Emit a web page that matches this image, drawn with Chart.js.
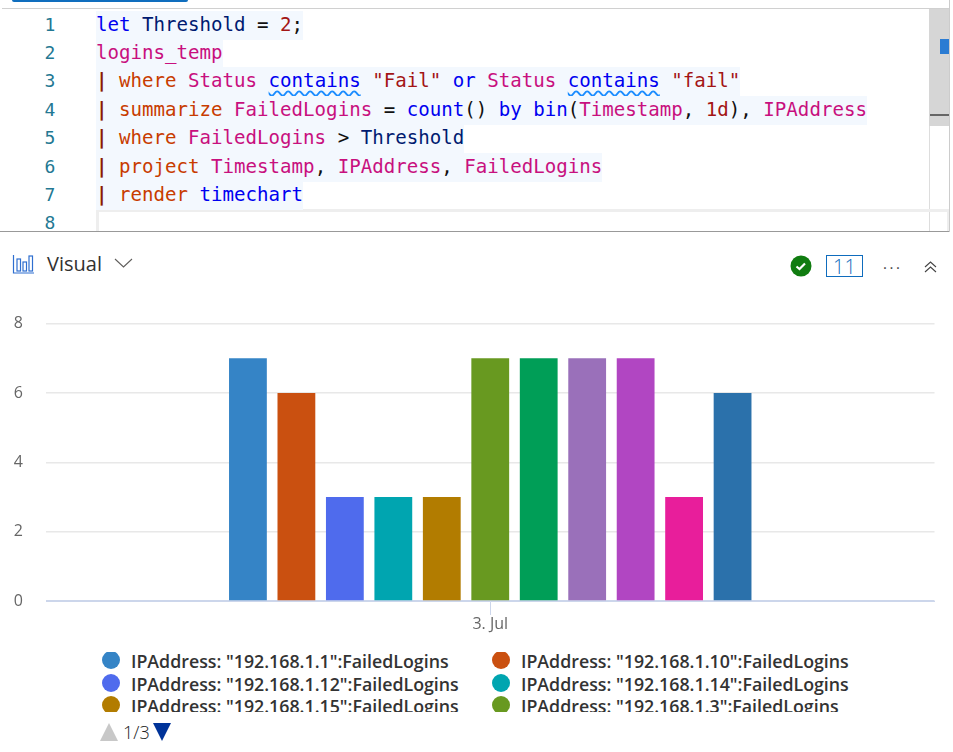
<!DOCTYPE html>
<html>
<head>
<meta charset="utf-8">
<title>Visual</title>
<script src="https://cdn.jsdelivr.net/npm/chart.js@4/dist/chart.umd.min.js"></script>
<style>
html, body { margin: 0; padding: 0; background: #fff; }
body { width: 953px; height: 752px; position: relative; overflow: hidden; font-family: "Open Sans", sans-serif; }
.abs { position: absolute; }
.ln { position: absolute; left: 15px; width: 70px; text-align: center; font: 18px/28px "DejaVu Sans Mono", monospace; color: #237893; }
.code { position: absolute; left: 96px; height: 29px; font: 19.13px/28px "DejaVu Sans Mono", monospace; white-space: pre; background: #f3f8fe; color: #111; }
.k { color: #0000f0; } .t { color: #c8107e; } .o { color: #c83c00; } .s { color: #a31515; } .n { color: #001a70; }
.w { color: #0000f0; text-decoration: underline wavy #1a8cff 1.5px; text-underline-offset: 3px; }
.pipe { color: #8a1c00; font-weight: bold; }
#chart { position: absolute; left: 0; top: 291px; }
#legend { position: absolute; left: 0; top: 652px; width: 953px; height: 60px; overflow: hidden; }
.item { position: absolute; font-size: 17.8px; font-weight: 600; line-height: 22px; color: #333; white-space: nowrap; }
.dot { position: absolute; left: -29px; top: 1px; width: 18px; height: 18px; border-radius: 50%; }
</style>
</head>
<body>
<div class="abs" style="left:12px;top:0;width:176px;height:2px;background:#106ebe;border-radius:0 0 3px 3px"></div>
<div class="abs" style="left:2px;top:8px;width:947px;height:1px;background:#d0d0d0"></div>
<div class="abs" style="left:929px;top:9px;width:20px;height:117px;background:#d6d6d6"></div>
<div class="abs" style="left:940px;top:39px;width:10px;height:15px;background:#2b7cd3"></div>
<div class="abs" style="left:930px;top:114px;width:19px;height:2px;background:#666"></div>
<div class="abs" style="left:949px;top:0;width:1px;height:232px;background:#ccc"></div>
<div class="abs" style="left:929px;top:126px;width:1px;height:106px;background:#ddd"></div>
<div class="abs" style="left:96px;top:209px;width:853px;height:22px;box-sizing:border-box;border:3px solid #eeeeee;border-bottom:0;border-right-width:2px"></div>
<div class="abs" style="left:0;top:231px;width:949px;height:1px;background:#999"></div>

<div id="editor"></div>

<svg class="abs" style="left:12px;top:253px" width="24" height="22" viewBox="0 0 24 22" fill="none" stroke="#2f6fd0" stroke-width="1.2">
  <path d="M1.5 2 V20 H22"/><rect x="5" y="6" width="3.5" height="12"/><rect x="11" y="9" width="3.5" height="9"/><rect x="17" y="3" width="3.5" height="15"/>
</svg>
<div class="abs" style="left:47px;top:250px;font-size:20px;line-height:28px;color:#323130">Visual</div>
<svg class="abs" style="left:114px;top:257px" width="20" height="12" fill="none" stroke="#605e5c" stroke-width="1.1"><path d="M1 2 L9.5 10 L18 2"/></svg>
<svg class="abs" style="left:790px;top:255px" width="22" height="22"><circle cx="11" cy="11" r="10.5" fill="#107c10"/><path d="M6.5 11.5 L9.5 14 L15 8.5" fill="none" stroke="#fff" stroke-width="2.2"/></svg>
<div class="abs" style="left:826px;top:255px;width:35px;height:20px;border:1px solid #0f6cbd;text-align:center;font-size:20px;line-height:22px;color:#0f6cbd;font-weight:300">11</div>
<div class="abs" style="left:883px;top:257px;font-size:15px;line-height:20px;letter-spacing:2.5px;color:#444">&middot;&middot;&middot;</div>
<svg class="abs" style="left:923px;top:260px" width="15" height="15" fill="none" stroke="#444" stroke-width="1.1"><path d="M2 7 L7.5 2 L13 7 M2 12 L7.5 7 L13 12"/></svg>

<canvas id="chart" width="953" height="349"></canvas>
<div id="legend"></div>

<svg class="abs" style="left:99px;top:722px" width="20" height="20"><path d="M1 19 L10 1 L19 19 Z" fill="#c8c8c8"/></svg>
<div class="abs" style="left:123px;top:720px;font-size:18px;line-height:24px;color:#222;font-weight:300">1/3</div>
<svg class="abs" style="left:152px;top:722px" width="20" height="20"><path d="M1 1 L19 1 L10 19 Z" fill="#003399"/></svg>

<script>
const categories = ['3. Jul'];
const seriesNames = ['192.168.1.1', '192.168.1.10', '192.168.1.12', '192.168.1.14', '192.168.1.15', '192.168.1.3',
    '192.168.1.4', '192.168.1.5', '192.168.1.6', '192.168.1.7', '192.168.1.8'];
const seriesValues = [7, 6, 3, 3, 3, 7, 7, 7, 7, 3, 6];
const seriesColors = ['#3584c6', '#ca5010', '#4f6bed', '#00a5b0', '#b27c00', '#689920',
    '#009e57', '#9a70ba', '#b146c2', '#e81e9b', '#2b71ab'];
const yTicks = [0, 2, 4, 6, 8];
const legendPageSize = 6;

// Query text, one list of [css class, text] runs per line
const codeLines = [
    [['k', 'let'], ['n', ' Threshold'], ['', ' = '], ['s', '2'], ['', ';']],
    [['t', 'logins_temp']],
    [['pipe', '|'], ['o', ' where'], ['t', ' Status'], ['', ' '], ['w', 'contains'], ['s', ' "Fail"'], ['k', ' or'], ['t', ' Status'], ['', ' '], ['w', 'contains'], ['s', ' "fail"']],
    [['pipe', '|'], ['o', ' summarize'], ['t', ' FailedLogins'], ['', ' = '], ['k', 'count'], ['', '() '], ['k', 'by bin'], ['', '('], ['t', 'Timestamp'], ['', ', '], ['s', '1d'], ['', '), '], ['t', 'IPAddress']],
    [['pipe', '|'], ['o', ' where'], ['t', ' FailedLogins'], ['', ' > '], ['n', 'Threshold']],
    [['pipe', '|'], ['o', ' project'], ['t', ' Timestamp'], ['', ', '], ['t', 'IPAddress'], ['', ', '], ['t', 'FailedLogins']],
    [['pipe', '|'], ['o', ' render'], ['k', ' timechart']]
];

function renderEditor() {
    const editor = document.getElementById('editor');
    codeLines.forEach((runs, i) => {
        const code = document.createElement('div');
        code.className = 'code';
        code.style.top = (10.5 + i * 28.4) + 'px';
        runs.forEach(r => {
            const span = document.createElement('span');
            span.className = r[0];
            span.textContent = r[1];
            code.appendChild(span);
        });
        editor.appendChild(code);
    });
    for (let i = 0; i < 8; i++) {
        const num = document.createElement('div');
        num.className = 'ln';
        num.style.top = (10.5 + i * 28.4) + 'px';
        num.textContent = i + 1;
        if (i === 7) num.style.height = '21px', num.style.overflow = 'hidden';
        editor.appendChild(num);
    }
}

function renderLegend() {
    const legend = document.getElementById('legend');
    seriesNames.slice(0, legendPageSize).forEach((name, i) => {
        const item = document.createElement('div');
        item.className = 'item';
        item.style.left = (i % 2 ? 521 : 131) + 'px';
        item.style.top = (-2 + Math.floor(i / 2) * 22.5) + 'px';
        item.textContent = 'IPAddress: "' + name + '":FailedLogins';
        const dot = document.createElement('span');
        dot.className = 'dot';
        dot.style.background = seriesColors[i];
        item.appendChild(dot);
        legend.appendChild(item);
    });
}

function renderChart() {
    new Chart(document.getElementById('chart'), {
        type: 'bar',
        data: {
            labels: categories,
            datasets: seriesNames.map((name, i) => ({
                label: 'IPAddress: "' + name + '":FailedLogins',
                data: [seriesValues[i]],
                backgroundColor: seriesColors[i],
                categoryPercentage: 0.6,
                barPercentage: 0.78
            }))
        },
        options: {
            responsive: false,
            animation: false,
            layout: { padding: { left: 0, right: 18.5, top: 14, bottom: 0 } },
            plugins: { legend: { display: false }, tooltip: { enabled: false } },
            scales: {
                x: {
                    grid: { offset: false, drawOnChartArea: false, tickLength: 14, tickColor: '#ccd6eb' },
                    border: { color: '#ccd6eb', z: 2 },
                    ticks: { color: '#666666', padding: 0, font: { family: 'Open Sans', size: 16 } },
                    afterFit: s => { s.height = 39; }
                },
                y: {
                    min: 0,
                    max: 8,
                    afterBuildTicks: s => { s.ticks = yTicks.map(v => ({ value: v })); },
                    grid: {
                        color: ctx => ctx.tick.value === 0 ? '#ccd6eb' : '#e8e8e8',
                        lineWidth: 1.5,
                        drawTicks: false
                    },
                    border: { display: false },
                    ticks: { color: '#666666', padding: 23, font: { family: 'Open Sans', size: 16 } },
                    afterFit: s => { s.width = 46; }
                }
            }
        }
    });
}

renderEditor();
renderLegend();
renderChart();
</script>
</body>
</html>
